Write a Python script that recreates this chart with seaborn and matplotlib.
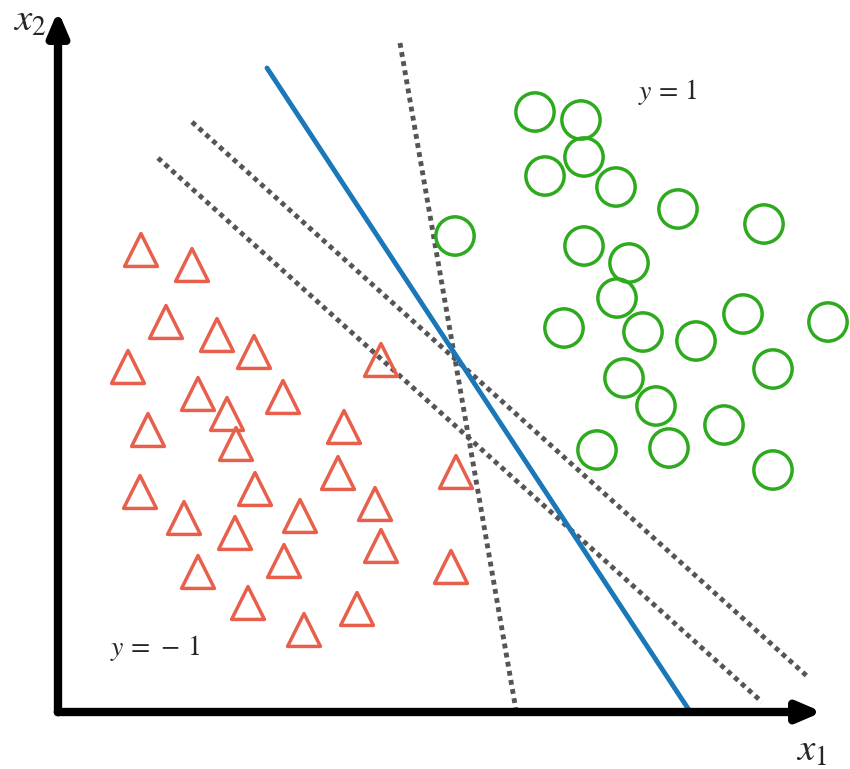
import matplotlib
matplotlib.use("Agg")
import matplotlib.pyplot as plt
import seaborn as sns

# class y=1 (circles), coordinates in image space
circ_x = [535,581,584,545,616,678,764,455,584,629,617,564,643,696,743,828,624,773,656,724,597,669,773]
circ_y = [112,120,157,176,187,209,224,236,246,263,298,328,332,341,314,322,378,369,406,425,450,448,470]
# class y=-1 (triangles)
tri_x = [141,192,166,217,254,128,198,283,227,381,148,236,344,338,456,140,255,184,300,375,235,381,198,284,451,248,357,304]
tri_y = [250,265,322,335,352,367,394,397,414,360,430,444,427,473,472,492,489,518,516,504,533,546,572,561,567,603,609,630]
# separating lines: (x0, y0, x1, y1)
blue_line = [267, 68, 689, 710]
dotted_lines = [[400, 43, 516, 710], [192, 122, 808, 677], [158, 158, 762, 702]]

sns.set_style("white")
fig = plt.figure(figsize=(8.5, 7.69), dpi=100)
ax = fig.add_axes([0, 0, 1, 1])
ax.set_xlim(0, 850)
ax.set_ylim(769, 0)
ax.axis("off")

for l in dotted_lines:
    ax.plot([l[0], l[2]], [l[1], l[3]], color="#555555", lw=3.5, ls=(0, (1, 0.9)))
ax.plot([blue_line[0], blue_line[2]], [blue_line[1], blue_line[3]], color="#1a78b8", lw=3.5)

sns.scatterplot(x=circ_x, y=circ_y, marker="o", s=760, facecolor="none",
                edgecolor="#2eaa1e", linewidth=2.5, ax=ax, zorder=3)
sns.scatterplot(x=tri_x, y=tri_y, marker="^", s=560, facecolor="none",
                edgecolor="#e8604c", linewidth=2.5, ax=ax, zorder=3)

ax.annotate("", xy=(58, 8), xytext=(58, 715),
            arrowprops=dict(arrowstyle="-|>,head_width=0.6,head_length=1.4", lw=6, color="black"))
ax.annotate("", xy=(825, 712), xytext=(55, 712),
            arrowprops=dict(arrowstyle="-|>,head_width=0.6,head_length=1.4", lw=6, color="black"))

plt.rcParams["mathtext.fontset"] = "stix"
ax.text(30, 20, r"$x_2$", fontsize=28, ha="center", va="center")
ax.text(812, 750, r"$x_1$", fontsize=28, ha="center", va="center")
ax.text(668, 92, r"$y\,=\,1$", fontsize=20, ha="center", va="center")
ax.text(155, 648, r"$y\,=\,-\,1$", fontsize=20, ha="center", va="center")

fig.savefig("out.png", dpi=100)
